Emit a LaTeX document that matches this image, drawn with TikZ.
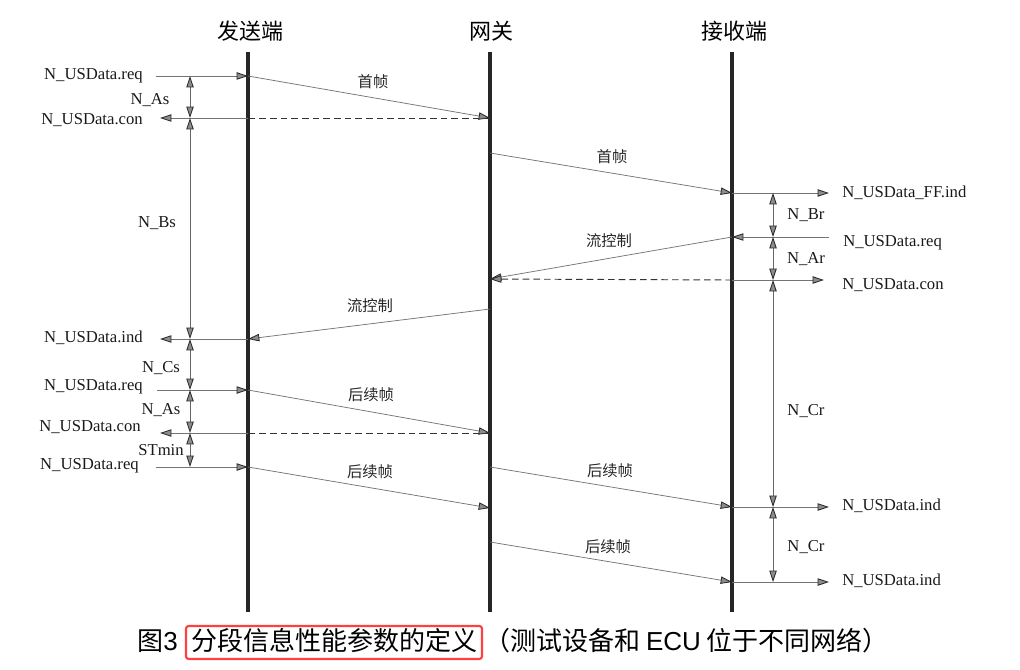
\documentclass[tikz,border=0pt]{standalone}
\usepackage{fontspec}
\setmainfont{Liberation Serif}
\newfontfamily\cjk{Noto Sans CJK SC}
\newfontfamily\capsans{Liberation Sans}
\usetikzlibrary{arrows.meta}
\begin{document}
\begin{tikzpicture}[x=0.75pt,y=-0.75pt,
  life/.style={line width=2.6pt,black!85},
  tipa/.tip={Triangle[length=8.5pt,width=5.5pt,color=black!85,fill=black!45,line width=0.6pt]},
  msg/.style={draw=black!55,line width=0.55pt,-tipa},
  dsh/.style={draw=black!80,line width=0.7pt,dash pattern=on 5pt off 3pt},
  dshar/.style={dsh,-tipa},
  tim/.style={draw=black!60,line width=0.55pt,tipa-tipa},
  lbl/.style={font=\fontsize{12.5}{14}\selectfont,inner sep=0pt,text=black!90},
  cn/.style={font=\cjk\fontsize{11.5}{13}\selectfont,inner sep=0pt,text=black!85},
  hdr/.style={font=\cjk\fontsize{16.5}{18}\selectfont,inner sep=0pt}]
\useasboundingbox (0,0) rectangle (1020,670);

% headers
\node[hdr] (hs) at (250,31) {发送端};
\node[hdr] (hg) at (491,31) {网关};
\node[hdr] (hr) at (734,31) {接收端};

% lifelines
\coordinate (st) at (248,52); \coordinate (sb) at (248,612);
\coordinate (gt) at (490,52); \coordinate (gb) at (490,612);
\coordinate (rt) at (732,52); \coordinate (rb) at (732,612);
\draw[life] (st) -- (sb);
\draw[life] (gt) -- (gb);
\draw[life] (rt) -- (rb);

% sender-side events
\coordinate (s1) at (248,76);  \coordinate (t1) at (190,76);
\coordinate (s2) at (248,118); \coordinate (t2) at (190,118);
\coordinate (s3) at (248,339); \coordinate (t3) at (190,339);
\coordinate (s4) at (248,390); \coordinate (t4) at (190,390);
\coordinate (s5) at (248,433); \coordinate (t5) at (190,433);
\coordinate (s6) at (248,467); \coordinate (t6) at (190,467);

\node[lbl,anchor=east] (l1) at (143,76) {N\_USData.req};
\node[lbl,anchor=east] (l2) at (143,120) {N\_USData.con};
\node[lbl,anchor=east] (l3) at (143,338) {N\_USData.ind};
\node[lbl,anchor=east] (l4) at (143,387) {N\_USData.req};
\node[lbl,anchor=east] (l5) at (141,427) {N\_USData.con};
\node[lbl,anchor=east] (l6) at (139,466) {N\_USData.req};

\coordinate (a1) at (156,76);
\coordinate (a2) at (160,118);
\coordinate (a3) at (160,339);
\coordinate (a4) at (157,390);
\coordinate (a5) at (160,433);
\coordinate (a6) at (156,467);
\draw[msg] (a1) -- (s1);
\draw[msg] (s2) -- (a2);
\draw[msg] (s3) -- (a3);
\draw[msg] (a4) -- (s4);
\draw[msg] (s5) -- (a5);
\draw[msg] (a6) -- (s6);

\draw[tim] (t1) -- (t2);
\draw[tim] (t2) -- (t3);
\draw[tim] (t3) -- (t4);
\draw[tim] (t4) -- (t5);
\draw[tim] (t5) -- (t6);
\node[lbl] (nas1) at (150,100) {N\_As};
\node[lbl] (nbs) at (157,223) {N\_Bs};
\node[lbl] (ncs) at (161,368) {N\_Cs};
\node[lbl] (nas2) at (161,410) {N\_As};
\node[lbl] (stm) at (161,450) {STmin};

% gateway events
\coordinate (g1) at (490,118);
\coordinate (g2) at (490,153);
\coordinate (g3) at (490,279);
\coordinate (g4) at (490,309);
\coordinate (g5) at (490,433);
\coordinate (g6) at (490,467);
\coordinate (g7) at (490,508);
\coordinate (g8) at (490,542);

% receiver events
\coordinate (r1) at (732,193); \coordinate (u1) at (773,193);
\coordinate (r2) at (732,237); \coordinate (u2) at (773,237);
\coordinate (r3) at (732,280); \coordinate (u3) at (773,280);
\coordinate (r4) at (732,507); \coordinate (u4) at (773,507);
\coordinate (r5) at (732,582); \coordinate (u5) at (773,582);

\node[lbl,anchor=west] (m1) at (842,193) {N\_USData\_FF.ind};
\node[lbl,anchor=west] (m2) at (843,243) {N\_USData.req};
\node[lbl,anchor=west] (m3) at (842,285) {N\_USData.con};
\node[lbl,anchor=west] (m4) at (842,506) {N\_USData.ind};
\node[lbl,anchor=west] (m5) at (842,581) {N\_USData.ind};

\coordinate (b1) at (829,193);
\coordinate (b2) at (829,237);
\coordinate (b3) at (824,280);
\coordinate (b4) at (829,507);
\coordinate (b5) at (829,582);
\draw[msg] (r1) -- (b1);
\draw[msg] (b2) -- (r2);
\draw[msg] (r3) -- (b3);
\draw[msg] (r4) -- (b4);
\draw[msg] (r5) -- (b5);

\draw[tim] (u1) -- (u2);
\draw[tim] (u2) -- (u3);
\draw[tim] (u3) -- (u4);
\draw[tim] (u4) -- (u5);
\node[lbl] (nbr) at (806,215) {N\_Br};
\node[lbl] (nar) at (806,259) {N\_Ar};
\node[lbl] (ncr1) at (806,411) {N\_Cr};
\node[lbl] (ncr2) at (806,547) {N\_Cr};

% messages between lifelines
\draw[msg] (s1) -- (g1);
\node[cn] (f1) at (373,82) {首帧};
\draw[dsh] (g1) -- (s2);
\draw[msg] (g2) -- (r1);
\node[cn] (f2) at (612,157) {首帧};
\draw[msg] (r2) -- (g3);
\node[cn] (f3) at (609,241) {流控制};
\draw[dshar] (r3) -- (g3);
\draw[msg] (g4) -- (s3);
\node[cn] (f4) at (370,306) {流控制};
\draw[msg] (s4) -- (g5);
\node[cn] (f5) at (371,395) {后续帧};
\draw[dsh] (g5) -- (s5);
\draw[msg] (s6) -- (g7);
\node[cn] (f6) at (370,472) {后续帧};
\draw[msg] (g6) -- (r4);
\node[cn] (f7) at (610,471) {后续帧};
\draw[msg] (g8) -- (r5);
\node[cn] (f8) at (608,547) {后续帧};

% caption
\node[font=\cjk\fontsize{19.5}{22}\selectfont,inner sep=0pt,anchor=west] (cap1) at (137,641) {图\capsans 3};
\node[font=\cjk\fontsize{19.5}{22}\selectfont,inner sep=0pt] (cap2) at (334,641) {分段信息性能参数的定义};
\node[font=\cjk\fontsize{19.5}{22}\selectfont,inner sep=0pt,anchor=west] (cap3) at (484,641) {（测试设备和 {\capsans ECU} 位于不同网络）};
\draw[red!75,line width=1.6pt,rounded corners=2pt] (186,626) rectangle (482,659);
\end{tikzpicture}
\end{document}
